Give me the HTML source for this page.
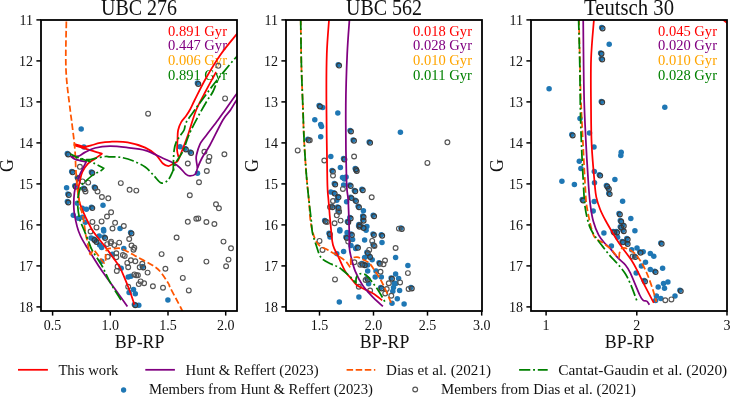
<!DOCTYPE html><html><head><meta charset="utf-8"><style>html,body{margin:0;padding:0;background:#fff;width:730px;height:397px;overflow:hidden} svg{will-change:transform}</style></head><body><svg width="730" height="397" viewBox="0 0 730 397" style="display:block">
<style>text{font-family:"Liberation Serif",serif;fill:#111}</style>
<rect width="730" height="397" fill="#fff"/>
<defs>
<clipPath id="c0"><rect x="41.0" y="20.0" width="196.0" height="291.0"/></clipPath>
<clipPath id="c1"><rect x="286.0" y="20.0" width="196.0" height="291.0"/></clipPath>
<clipPath id="c2"><rect x="531.0" y="20.0" width="196.0" height="291.0"/></clipPath>
</defs>
<text x="227.0" y="35.8" text-anchor="end" font-size="14" textLength="59" lengthAdjust="spacingAndGlyphs" style="fill:#ff0000">0.891 Gyr</text>
<text x="227.0" y="50.3" text-anchor="end" font-size="14" textLength="59" lengthAdjust="spacingAndGlyphs" style="fill:#800080">0.447 Gyr</text>
<text x="227.0" y="64.9" text-anchor="end" font-size="14" textLength="59" lengthAdjust="spacingAndGlyphs" style="fill:#ffa500">0.006 Gyr</text>
<text x="227.0" y="79.5" text-anchor="end" font-size="14" textLength="59" lengthAdjust="spacingAndGlyphs" style="fill:#008000">0.891 Gyr</text>
<g clip-path="url(#c0)">
<circle cx="197.4" cy="83.0" r="2.75" fill="#1f77b4"/>
<circle cx="180.0" cy="146.7" r="2.75" fill="#1f77b4"/>
<circle cx="185.0" cy="148.5" r="2.75" fill="#1f77b4"/>
<circle cx="190.2" cy="152.0" r="2.75" fill="#1f77b4"/>
<circle cx="197.5" cy="173.3" r="2.75" fill="#1f77b4"/>
<circle cx="81.2" cy="128.9" r="2.75" fill="#1f77b4"/>
<circle cx="83.9" cy="146.9" r="2.75" fill="#1f77b4"/>
<circle cx="67.3" cy="153.5" r="2.75" fill="#1f77b4"/>
<circle cx="71.7" cy="171.4" r="2.75" fill="#1f77b4"/>
<circle cx="91.4" cy="172.0" r="2.75" fill="#1f77b4"/>
<circle cx="77.3" cy="177.6" r="2.75" fill="#1f77b4"/>
<circle cx="74.8" cy="185.8" r="2.75" fill="#1f77b4"/>
<circle cx="66.6" cy="187.7" r="2.75" fill="#1f77b4"/>
<circle cx="67.9" cy="194.0" r="2.75" fill="#1f77b4"/>
<circle cx="83.6" cy="188.3" r="2.75" fill="#1f77b4"/>
<circle cx="94.3" cy="187.0" r="2.75" fill="#1f77b4"/>
<circle cx="67.4" cy="201.6" r="2.75" fill="#1f77b4"/>
<circle cx="77.3" cy="203.2" r="2.75" fill="#1f77b4"/>
<circle cx="82.3" cy="208.2" r="2.75" fill="#1f77b4"/>
<circle cx="91.4" cy="207.2" r="2.75" fill="#1f77b4"/>
<circle cx="86.4" cy="209.2" r="2.75" fill="#1f77b4"/>
<circle cx="103.0" cy="205.2" r="2.75" fill="#1f77b4"/>
<circle cx="73.3" cy="215.3" r="2.75" fill="#1f77b4"/>
<circle cx="78.3" cy="218.3" r="2.75" fill="#1f77b4"/>
<circle cx="82.3" cy="217.3" r="2.75" fill="#1f77b4"/>
<circle cx="85.4" cy="222.3" r="2.75" fill="#1f77b4"/>
<circle cx="103.5" cy="229.4" r="2.75" fill="#1f77b4"/>
<circle cx="91.1" cy="238.1" r="2.75" fill="#1f77b4"/>
<circle cx="93.6" cy="239.1" r="2.75" fill="#1f77b4"/>
<circle cx="95.6" cy="241.1" r="2.75" fill="#1f77b4"/>
<circle cx="99.2" cy="236.0" r="2.75" fill="#1f77b4"/>
<circle cx="99.7" cy="245.1" r="2.75" fill="#1f77b4"/>
<circle cx="101.7" cy="247.6" r="2.75" fill="#1f77b4"/>
<circle cx="104.2" cy="237.1" r="2.75" fill="#1f77b4"/>
<circle cx="103.7" cy="231.0" r="2.75" fill="#1f77b4"/>
<circle cx="112.3" cy="254.2" r="2.75" fill="#1f77b4"/>
<circle cx="101.7" cy="261.2" r="2.75" fill="#1f77b4"/>
<circle cx="120.0" cy="228.4" r="2.75" fill="#1f77b4"/>
<circle cx="130.6" cy="232.5" r="2.75" fill="#1f77b4"/>
<circle cx="123.8" cy="248.6" r="2.75" fill="#1f77b4"/>
<circle cx="121.2" cy="268.2" r="2.75" fill="#1f77b4"/>
<circle cx="142.3" cy="266.5" r="2.75" fill="#1f77b4"/>
<circle cx="130.9" cy="276.2" r="2.75" fill="#1f77b4"/>
<circle cx="128.2" cy="277.0" r="2.75" fill="#1f77b4"/>
<circle cx="133.5" cy="289.4" r="2.75" fill="#1f77b4"/>
<circle cx="129.1" cy="292.6" r="2.75" fill="#1f77b4"/>
<circle cx="135.3" cy="293.8" r="2.75" fill="#1f77b4"/>
<circle cx="134.4" cy="304.4" r="2.75" fill="#1f77b4"/>
<circle cx="138.8" cy="305.3" r="2.75" fill="#1f77b4"/>
<circle cx="167.9" cy="300.0" r="2.75" fill="#1f77b4"/>
<circle cx="198.3" cy="83.9" r="2.4" fill="none" stroke="#3a3a3a" stroke-width="1.15"/>
<circle cx="185.9" cy="149.4" r="2.4" fill="none" stroke="#3a3a3a" stroke-width="1.15"/>
<circle cx="191.1" cy="152.9" r="2.4" fill="none" stroke="#3a3a3a" stroke-width="1.15"/>
<circle cx="68.2" cy="154.4" r="2.4" fill="none" stroke="#3a3a3a" stroke-width="1.15"/>
<circle cx="72.6" cy="172.3" r="2.4" fill="none" stroke="#3a3a3a" stroke-width="1.15"/>
<circle cx="92.3" cy="172.9" r="2.4" fill="none" stroke="#3a3a3a" stroke-width="1.15"/>
<circle cx="78.2" cy="178.5" r="2.4" fill="none" stroke="#3a3a3a" stroke-width="1.15"/>
<circle cx="75.7" cy="186.7" r="2.4" fill="none" stroke="#3a3a3a" stroke-width="1.15"/>
<circle cx="68.8" cy="194.9" r="2.4" fill="none" stroke="#3a3a3a" stroke-width="1.15"/>
<circle cx="84.5" cy="189.2" r="2.4" fill="none" stroke="#3a3a3a" stroke-width="1.15"/>
<circle cx="95.2" cy="187.9" r="2.4" fill="none" stroke="#3a3a3a" stroke-width="1.15"/>
<circle cx="68.3" cy="202.5" r="2.4" fill="none" stroke="#3a3a3a" stroke-width="1.15"/>
<circle cx="92.3" cy="208.1" r="2.4" fill="none" stroke="#3a3a3a" stroke-width="1.15"/>
<circle cx="94.5" cy="240.0" r="2.4" fill="none" stroke="#3a3a3a" stroke-width="1.15"/>
<circle cx="96.5" cy="242.0" r="2.4" fill="none" stroke="#3a3a3a" stroke-width="1.15"/>
<circle cx="105.1" cy="238.0" r="2.4" fill="none" stroke="#3a3a3a" stroke-width="1.15"/>
<circle cx="131.5" cy="233.4" r="2.4" fill="none" stroke="#3a3a3a" stroke-width="1.15"/>
<circle cx="143.2" cy="267.4" r="2.4" fill="none" stroke="#3a3a3a" stroke-width="1.15"/>
<circle cx="135.3" cy="305.3" r="2.4" fill="none" stroke="#3a3a3a" stroke-width="1.15"/>
<circle cx="218.3" cy="65.8" r="2.4" fill="none" stroke="#555" stroke-width="1.15"/>
<circle cx="225.1" cy="98.4" r="2.4" fill="none" stroke="#555" stroke-width="1.15"/>
<circle cx="148.1" cy="113.7" r="2.4" fill="none" stroke="#555" stroke-width="1.15"/>
<circle cx="204.4" cy="151.7" r="2.4" fill="none" stroke="#555" stroke-width="1.15"/>
<circle cx="209.4" cy="156.9" r="2.4" fill="none" stroke="#555" stroke-width="1.15"/>
<circle cx="208.5" cy="161.0" r="2.4" fill="none" stroke="#555" stroke-width="1.15"/>
<circle cx="224.4" cy="154.2" r="2.4" fill="none" stroke="#555" stroke-width="1.15"/>
<circle cx="187.8" cy="163.5" r="2.4" fill="none" stroke="#555" stroke-width="1.15"/>
<circle cx="206.8" cy="171.0" r="2.4" fill="none" stroke="#555" stroke-width="1.15"/>
<circle cx="199.0" cy="182.2" r="2.4" fill="none" stroke="#555" stroke-width="1.15"/>
<circle cx="79.9" cy="166.8" r="2.4" fill="none" stroke="#555" stroke-width="1.15"/>
<circle cx="82.5" cy="181.4" r="2.4" fill="none" stroke="#555" stroke-width="1.15"/>
<circle cx="88.2" cy="182.6" r="2.4" fill="none" stroke="#555" stroke-width="1.15"/>
<circle cx="85.5" cy="191.5" r="2.4" fill="none" stroke="#555" stroke-width="1.15"/>
<circle cx="97.5" cy="191.5" r="2.4" fill="none" stroke="#555" stroke-width="1.15"/>
<circle cx="101.9" cy="197.0" r="2.4" fill="none" stroke="#555" stroke-width="1.15"/>
<circle cx="108.3" cy="198.3" r="2.4" fill="none" stroke="#555" stroke-width="1.15"/>
<circle cx="120.8" cy="183.1" r="2.4" fill="none" stroke="#555" stroke-width="1.15"/>
<circle cx="129.6" cy="189.8" r="2.4" fill="none" stroke="#555" stroke-width="1.15"/>
<circle cx="136.3" cy="190.6" r="2.4" fill="none" stroke="#555" stroke-width="1.15"/>
<circle cx="111.1" cy="212.3" r="2.4" fill="none" stroke="#555" stroke-width="1.15"/>
<circle cx="107.0" cy="216.5" r="2.4" fill="none" stroke="#555" stroke-width="1.15"/>
<circle cx="101.6" cy="221.4" r="2.4" fill="none" stroke="#555" stroke-width="1.15"/>
<circle cx="92.4" cy="221.9" r="2.4" fill="none" stroke="#555" stroke-width="1.15"/>
<circle cx="115.1" cy="222.8" r="2.4" fill="none" stroke="#555" stroke-width="1.15"/>
<circle cx="96.5" cy="227.4" r="2.4" fill="none" stroke="#555" stroke-width="1.15"/>
<circle cx="112.5" cy="228.5" r="2.4" fill="none" stroke="#555" stroke-width="1.15"/>
<circle cx="123.8" cy="226.0" r="2.4" fill="none" stroke="#555" stroke-width="1.15"/>
<circle cx="129.2" cy="239.0" r="2.4" fill="none" stroke="#555" stroke-width="1.15"/>
<circle cx="176.6" cy="237.5" r="2.4" fill="none" stroke="#555" stroke-width="1.15"/>
<circle cx="111.1" cy="241.6" r="2.4" fill="none" stroke="#555" stroke-width="1.15"/>
<circle cx="119.2" cy="242.6" r="2.4" fill="none" stroke="#555" stroke-width="1.15"/>
<circle cx="131.5" cy="245.5" r="2.4" fill="none" stroke="#555" stroke-width="1.15"/>
<circle cx="134.3" cy="247.8" r="2.4" fill="none" stroke="#555" stroke-width="1.15"/>
<circle cx="90.6" cy="231.5" r="2.4" fill="none" stroke="#555" stroke-width="1.15"/>
<circle cx="107.2" cy="244.1" r="2.4" fill="none" stroke="#555" stroke-width="1.15"/>
<circle cx="110.7" cy="243.1" r="2.4" fill="none" stroke="#555" stroke-width="1.15"/>
<circle cx="114.3" cy="245.1" r="2.4" fill="none" stroke="#555" stroke-width="1.15"/>
<circle cx="107.7" cy="256.7" r="2.4" fill="none" stroke="#555" stroke-width="1.15"/>
<circle cx="116.3" cy="253.2" r="2.4" fill="none" stroke="#555" stroke-width="1.15"/>
<circle cx="116.3" cy="257.2" r="2.4" fill="none" stroke="#555" stroke-width="1.15"/>
<circle cx="189.8" cy="195.2" r="2.4" fill="none" stroke="#555" stroke-width="1.15"/>
<circle cx="216.0" cy="204.3" r="2.4" fill="none" stroke="#555" stroke-width="1.15"/>
<circle cx="218.9" cy="208.3" r="2.4" fill="none" stroke="#555" stroke-width="1.15"/>
<circle cx="187.8" cy="221.8" r="2.4" fill="none" stroke="#555" stroke-width="1.15"/>
<circle cx="196.3" cy="218.8" r="2.4" fill="none" stroke="#555" stroke-width="1.15"/>
<circle cx="198.3" cy="218.4" r="2.4" fill="none" stroke="#555" stroke-width="1.15"/>
<circle cx="206.4" cy="222.0" r="2.4" fill="none" stroke="#555" stroke-width="1.15"/>
<circle cx="214.4" cy="224.0" r="2.4" fill="none" stroke="#555" stroke-width="1.15"/>
<circle cx="223.5" cy="241.6" r="2.4" fill="none" stroke="#555" stroke-width="1.15"/>
<circle cx="231.0" cy="248.3" r="2.4" fill="none" stroke="#555" stroke-width="1.15"/>
<circle cx="161.6" cy="254.1" r="2.4" fill="none" stroke="#555" stroke-width="1.15"/>
<circle cx="180.2" cy="259.2" r="2.4" fill="none" stroke="#555" stroke-width="1.15"/>
<circle cx="206.4" cy="261.6" r="2.4" fill="none" stroke="#555" stroke-width="1.15"/>
<circle cx="228.5" cy="259.6" r="2.4" fill="none" stroke="#555" stroke-width="1.15"/>
<circle cx="226.1" cy="266.2" r="2.4" fill="none" stroke="#555" stroke-width="1.15"/>
<circle cx="165.4" cy="268.8" r="2.4" fill="none" stroke="#555" stroke-width="1.15"/>
<circle cx="182.8" cy="277.9" r="2.4" fill="none" stroke="#555" stroke-width="1.15"/>
<circle cx="163.0" cy="287.8" r="2.4" fill="none" stroke="#555" stroke-width="1.15"/>
<circle cx="188.8" cy="290.4" r="2.4" fill="none" stroke="#555" stroke-width="1.15"/>
<circle cx="133.5" cy="249.7" r="2.4" fill="none" stroke="#555" stroke-width="1.15"/>
<circle cx="122.9" cy="255.0" r="2.4" fill="none" stroke="#555" stroke-width="1.15"/>
<circle cx="124.7" cy="255.9" r="2.4" fill="none" stroke="#555" stroke-width="1.15"/>
<circle cx="127.3" cy="262.9" r="2.4" fill="none" stroke="#555" stroke-width="1.15"/>
<circle cx="130.9" cy="260.3" r="2.4" fill="none" stroke="#555" stroke-width="1.15"/>
<circle cx="135.3" cy="261.2" r="2.4" fill="none" stroke="#555" stroke-width="1.15"/>
<circle cx="142.3" cy="263.8" r="2.4" fill="none" stroke="#555" stroke-width="1.15"/>
<circle cx="128.2" cy="267.3" r="2.4" fill="none" stroke="#555" stroke-width="1.15"/>
<circle cx="139.7" cy="267.3" r="2.4" fill="none" stroke="#555" stroke-width="1.15"/>
<circle cx="147.6" cy="272.6" r="2.4" fill="none" stroke="#555" stroke-width="1.15"/>
<circle cx="116.8" cy="270.9" r="2.4" fill="none" stroke="#555" stroke-width="1.15"/>
<circle cx="117.6" cy="266.5" r="2.4" fill="none" stroke="#555" stroke-width="1.15"/>
<circle cx="134.4" cy="274.4" r="2.4" fill="none" stroke="#555" stroke-width="1.15"/>
<circle cx="136.2" cy="275.3" r="2.4" fill="none" stroke="#555" stroke-width="1.15"/>
<circle cx="137.9" cy="275.3" r="2.4" fill="none" stroke="#555" stroke-width="1.15"/>
<circle cx="140.6" cy="281.4" r="2.4" fill="none" stroke="#555" stroke-width="1.15"/>
<circle cx="144.1" cy="283.2" r="2.4" fill="none" stroke="#555" stroke-width="1.15"/>
<circle cx="138.8" cy="284.1" r="2.4" fill="none" stroke="#555" stroke-width="1.15"/>
<circle cx="152.9" cy="286.2" r="2.4" fill="none" stroke="#555" stroke-width="1.15"/>
<circle cx="128.2" cy="286.7" r="2.4" fill="none" stroke="#555" stroke-width="1.15"/>
<path d="M134.40,304.60 C133.75,302.67 131.83,296.70 130.50,293.00 C129.17,289.30 128.10,286.52 126.40,282.40 C124.70,278.28 122.53,272.45 120.30,268.30 C118.07,264.15 115.35,260.87 113.00,257.50 C110.65,254.13 108.53,251.18 106.20,248.10 C103.87,245.02 101.28,241.93 99.00,239.00 C96.72,236.07 94.33,233.33 92.50,230.50 C90.67,227.67 89.40,224.78 88.00,222.00 C86.60,219.22 85.55,217.23 84.10,213.80 C82.65,210.37 80.23,205.52 79.30,201.40 C78.37,197.28 78.40,192.55 78.50,189.10 C78.60,185.65 79.25,183.57 79.90,180.70 C80.55,177.83 81.05,174.73 82.40,171.90 C83.75,169.07 85.90,165.90 88.00,163.70 C90.10,161.50 92.68,160.37 95.00,158.70 C97.32,157.03 100.75,154.53 101.90,153.70 C100.37,153.23 95.50,151.75 92.70,150.90 C89.90,150.05 88.13,149.52 85.10,148.60 C82.07,147.68 76.27,145.93 74.50,145.40 C74.50,145.17 74.50,144.23 74.50,144.00 C75.42,144.27 78.23,145.13 80.00,145.60 C81.77,146.07 83.23,146.83 85.10,146.80 C86.97,146.77 88.72,146.05 91.20,145.40 C93.68,144.75 96.87,143.50 100.00,142.90 C103.13,142.30 105.40,141.90 110.00,141.80 C114.60,141.70 121.73,141.33 127.60,142.30 C133.47,143.27 140.50,145.53 145.20,147.60 C149.90,149.67 152.85,152.05 155.80,154.70 C158.75,157.35 160.78,161.62 162.90,163.50 C165.02,165.38 166.75,166.00 168.50,166.00 C170.25,166.00 171.80,164.43 173.40,163.50 C175.00,162.57 176.63,162.60 178.10,160.40 C179.57,158.20 180.52,154.67 182.20,150.30 C183.88,145.93 185.87,140.92 188.20,134.20 C190.53,127.48 193.27,117.20 196.20,110.00 C199.13,102.80 202.70,96.93 205.80,91.00 C208.90,85.07 213.10,77.57 214.80,74.40 C216.50,71.23 215.80,72.40 216.00,72.00" fill="none" stroke="#ff0000" stroke-width="1.75" stroke-linejoin="round"/>
<path d="M178.50,157.00 C178.27,155.88 177.27,153.13 177.10,150.30 C176.93,147.47 177.33,143.35 177.50,140.00 C177.67,136.65 177.48,133.18 178.10,130.20 C178.72,127.22 179.88,124.47 181.20,122.10 C182.52,119.73 184.57,118.02 186.00,116.00 C187.43,113.98 188.35,112.67 189.80,110.00 C191.25,107.33 192.03,105.25 194.70,100.00 C197.37,94.75 201.53,86.00 205.80,78.50 C210.07,71.00 215.17,62.35 220.30,55.00 C225.43,47.65 232.98,38.90 236.60,34.40 C240.22,29.90 241.10,29.07 242.00,28.00" fill="none" stroke="#ff0000" stroke-width="1.75" stroke-linejoin="round"/>
<path d="M127.40,306.60 C126.22,304.92 123.17,300.53 120.30,296.50 C117.43,292.47 113.55,287.10 110.20,282.40 C106.85,277.70 103.55,273.33 100.20,268.30 C96.85,263.27 92.55,256.08 90.10,252.20 C87.65,248.32 87.10,247.70 85.50,245.00 C83.90,242.30 81.92,239.15 80.50,236.00 C79.08,232.85 78.08,230.38 77.00,226.10 C75.92,221.82 74.43,215.88 74.00,210.30 C73.57,204.72 73.85,197.53 74.40,192.60 C74.95,187.67 76.18,184.15 77.30,180.70 C78.42,177.25 79.62,175.03 81.10,171.90 C82.58,168.77 85.35,163.57 86.20,161.90 C84.40,161.47 77.93,160.18 75.40,159.30 C72.87,158.42 71.73,157.05 71.00,156.60 C72.27,156.53 76.28,156.90 78.60,156.20 C80.92,155.50 82.17,153.77 84.90,152.40 C87.63,151.03 90.82,149.03 95.00,148.00 C99.18,146.97 104.57,146.27 110.00,146.20 C115.43,146.13 121.73,146.92 127.60,147.60 C133.47,148.28 139.32,148.53 145.20,150.30 C151.08,152.07 157.60,155.72 162.90,158.20 C168.20,160.68 173.18,162.55 177.00,165.20 C180.82,167.85 183.63,172.33 185.80,174.10 C187.97,175.87 188.38,175.82 190.00,175.80 C191.62,175.78 194.25,175.30 195.50,174.00 C196.75,172.70 196.42,170.67 197.50,168.00 C198.58,165.33 199.92,161.83 202.00,158.00 C204.08,154.17 206.52,151.33 210.00,145.00 C213.48,138.67 219.48,125.83 222.90,120.00 C226.32,114.17 228.28,113.22 230.50,110.00 C232.72,106.78 234.28,103.53 236.20,100.70 C238.12,97.87 241.03,94.28 242.00,93.00" fill="none" stroke="#800080" stroke-width="1.75" stroke-linejoin="round"/>
<path d="M197.50,168.00 C197.30,166.67 196.47,162.17 196.30,160.00 C196.13,157.83 195.90,157.60 196.50,155.00 C197.10,152.40 198.48,147.40 199.90,144.40 C201.32,141.40 201.98,141.07 205.00,137.00 C208.02,132.93 214.63,124.50 218.00,120.00 C221.37,115.50 222.17,114.25 225.20,110.00 C228.23,105.75 233.40,98.17 236.20,94.50 C239.00,90.83 241.03,89.08 242.00,88.00" fill="none" stroke="#800080" stroke-width="1.75" stroke-linejoin="round"/>
<path d="M66.40,19.00 C66.33,27.50 65.37,54.83 66.00,70.00 C66.63,85.17 69.28,101.67 70.20,110.00 C71.12,118.33 70.73,113.67 71.50,120.00 C72.27,126.33 74.03,139.13 74.80,148.00 C75.57,156.87 75.47,164.87 76.10,173.20 C76.73,181.53 77.40,190.48 78.60,198.00 C79.80,205.52 82.13,212.30 83.30,218.30 C84.47,224.30 84.97,230.37 85.60,234.00 C86.23,237.63 86.35,236.73 87.10,240.10 C87.85,243.47 89.10,252.52 90.10,254.20 C91.10,255.88 92.07,250.43 93.10,250.20 C94.13,249.97 94.37,250.63 96.30,252.80 C98.23,254.97 103.10,263.42 104.70,263.20 C106.30,262.98 105.30,253.93 105.90,251.50 C106.50,249.07 106.90,249.08 108.30,248.60 C109.70,248.12 112.07,248.57 114.30,248.60 C116.53,248.63 118.20,247.58 121.70,248.80 C125.20,250.02 130.10,253.10 135.30,255.90 C140.50,258.70 148.78,263.03 152.90,265.60 C157.02,268.17 157.35,268.22 160.00,271.30 C162.65,274.38 167.12,281.42 168.80,284.10 C170.48,286.78 168.03,283.33 170.10,287.40 C172.17,291.47 179.05,304.23 181.20,308.50 C183.35,312.77 182.70,312.25 183.00,313.00" fill="none" stroke="#ff5500" stroke-width="1.75" stroke-linejoin="round" stroke-dasharray="6.5 2.8" stroke-dashoffset="6.6"/>
<path d="M121.00,300.00 C119.20,297.07 113.33,288.02 110.20,282.40 C107.07,276.78 105.22,271.67 102.20,266.30 C99.18,260.93 94.33,254.25 92.10,250.20 C89.87,246.15 90.15,245.37 88.80,242.00 C87.45,238.63 85.47,233.67 84.00,230.00 C82.53,226.33 81.02,223.67 80.00,220.00 C78.98,216.33 78.20,211.97 77.90,208.00 C77.60,204.03 77.62,199.93 78.20,196.20 C78.78,192.47 80.07,188.18 81.40,185.60 C82.73,183.02 84.15,182.57 86.20,180.70 C88.25,178.83 91.40,175.97 93.70,174.40 C96.00,172.83 98.32,172.33 100.00,171.30 C101.68,170.27 103.17,168.72 103.80,168.20 C102.12,167.35 96.85,164.47 93.70,163.10 C90.55,161.73 87.63,160.83 84.90,160.00 C82.17,159.17 79.62,159.05 77.30,158.10 C74.98,157.15 72.05,154.93 71.00,154.30 C72.33,154.88 76.13,156.90 79.00,157.80 C81.87,158.70 85.33,159.65 88.20,159.70 C91.07,159.75 93.33,158.63 96.20,158.10 C99.07,157.57 103.10,156.72 105.40,156.50 C107.70,156.28 107.47,156.67 110.00,156.80 C112.53,156.93 116.78,156.63 120.60,157.30 C124.42,157.97 128.80,159.18 132.90,160.80 C137.00,162.42 141.68,164.50 145.20,167.00 C148.72,169.50 151.35,173.15 154.00,175.80 C156.65,178.45 158.75,182.20 161.10,182.90 C163.45,183.60 166.10,182.07 168.10,180.00 C170.10,177.93 171.77,173.43 173.10,170.50 C174.43,167.57 174.45,165.65 176.10,162.40 C177.75,159.15 181.18,154.73 183.00,151.00 C184.82,147.27 185.65,143.50 187.00,140.00 C188.35,136.50 189.07,134.25 191.10,130.00 C193.13,125.75 196.50,119.43 199.20,114.50 C201.90,109.57 205.00,104.23 207.30,100.40 C209.60,96.57 211.22,95.07 213.00,91.50 C214.78,87.93 217.17,81.08 218.00,79.00" fill="none" stroke="#008000" stroke-width="1.75" stroke-linejoin="round" stroke-dasharray="11.2 2.8 1.9 2.8"/>
<path d="M173.50,171.00 C173.47,170.25 173.20,169.95 173.30,166.50 C173.40,163.05 173.63,154.33 174.10,150.30 C174.57,146.27 175.12,144.68 176.10,142.30 C177.08,139.92 178.67,138.05 180.00,136.00 C181.33,133.95 183.08,132.23 184.10,130.00 C185.12,127.77 184.62,125.52 186.10,122.60 C187.58,119.68 190.65,115.87 193.00,112.50 C195.35,109.13 196.48,107.43 200.20,102.40 C203.92,97.37 209.75,89.35 215.30,82.30 C220.85,75.25 229.05,65.32 233.50,60.10 C237.95,54.88 240.58,52.52 242.00,51.00" fill="none" stroke="#008000" stroke-width="1.75" stroke-linejoin="round" stroke-dasharray="11.2 2.8 1.9 2.8"/>
</g>
<text x="472.0" y="35.8" text-anchor="end" font-size="14" textLength="59" lengthAdjust="spacingAndGlyphs" style="fill:#ff0000">0.018 Gyr</text>
<text x="472.0" y="50.3" text-anchor="end" font-size="14" textLength="59" lengthAdjust="spacingAndGlyphs" style="fill:#800080">0.028 Gyr</text>
<text x="472.0" y="64.9" text-anchor="end" font-size="14" textLength="59" lengthAdjust="spacingAndGlyphs" style="fill:#ffa500">0.010 Gyr</text>
<text x="472.0" y="79.5" text-anchor="end" font-size="14" textLength="59" lengthAdjust="spacingAndGlyphs" style="fill:#008000">0.011 Gyr</text>
<g clip-path="url(#c1)">
<circle cx="338.2" cy="64.7" r="2.75" fill="#1f77b4"/>
<circle cx="319.1" cy="105.6" r="2.75" fill="#1f77b4"/>
<circle cx="322.7" cy="107.5" r="2.75" fill="#1f77b4"/>
<circle cx="337.8" cy="113.1" r="2.75" fill="#1f77b4"/>
<circle cx="314.8" cy="119.8" r="2.75" fill="#1f77b4"/>
<circle cx="320.7" cy="124.6" r="2.75" fill="#1f77b4"/>
<circle cx="321.5" cy="126.6" r="2.75" fill="#1f77b4"/>
<circle cx="350.1" cy="130.6" r="2.75" fill="#1f77b4"/>
<circle cx="320.7" cy="136.7" r="2.75" fill="#1f77b4"/>
<circle cx="307.8" cy="139.3" r="2.75" fill="#1f77b4"/>
<circle cx="353.1" cy="139.9" r="2.75" fill="#1f77b4"/>
<circle cx="330.8" cy="156.5" r="2.75" fill="#1f77b4"/>
<circle cx="343.5" cy="158.5" r="2.75" fill="#1f77b4"/>
<circle cx="340.4" cy="167.5" r="2.75" fill="#1f77b4"/>
<circle cx="332.0" cy="170.6" r="2.75" fill="#1f77b4"/>
<circle cx="355.2" cy="168.5" r="2.75" fill="#1f77b4"/>
<circle cx="342.5" cy="177.6" r="2.75" fill="#1f77b4"/>
<circle cx="346.1" cy="177.0" r="2.75" fill="#1f77b4"/>
<circle cx="400.4" cy="132.3" r="2.75" fill="#1f77b4"/>
<circle cx="369.2" cy="141.9" r="2.75" fill="#1f77b4"/>
<circle cx="344.4" cy="179.1" r="2.75" fill="#1f77b4"/>
<circle cx="334.3" cy="183.6" r="2.75" fill="#1f77b4"/>
<circle cx="343.6" cy="185.1" r="2.75" fill="#1f77b4"/>
<circle cx="330.8" cy="191.9" r="2.75" fill="#1f77b4"/>
<circle cx="333.8" cy="192.7" r="2.75" fill="#1f77b4"/>
<circle cx="337.6" cy="196.4" r="2.75" fill="#1f77b4"/>
<circle cx="336.8" cy="200.2" r="2.75" fill="#1f77b4"/>
<circle cx="346.6" cy="201.7" r="2.75" fill="#1f77b4"/>
<circle cx="331.5" cy="206.3" r="2.75" fill="#1f77b4"/>
<circle cx="337.6" cy="207.0" r="2.75" fill="#1f77b4"/>
<circle cx="338.0" cy="210.8" r="2.75" fill="#1f77b4"/>
<circle cx="324.7" cy="220.6" r="2.75" fill="#1f77b4"/>
<circle cx="347.4" cy="221.4" r="2.75" fill="#1f77b4"/>
<circle cx="339.8" cy="229.7" r="2.75" fill="#1f77b4"/>
<circle cx="355.9" cy="170.0" r="2.75" fill="#1f77b4"/>
<circle cx="349.8" cy="185.1" r="2.75" fill="#1f77b4"/>
<circle cx="354.4" cy="190.4" r="2.75" fill="#1f77b4"/>
<circle cx="361.9" cy="189.3" r="2.75" fill="#1f77b4"/>
<circle cx="350.6" cy="197.2" r="2.75" fill="#1f77b4"/>
<circle cx="355.1" cy="200.2" r="2.75" fill="#1f77b4"/>
<circle cx="358.1" cy="206.3" r="2.75" fill="#1f77b4"/>
<circle cx="363.4" cy="210.8" r="2.75" fill="#1f77b4"/>
<circle cx="362.7" cy="216.1" r="2.75" fill="#1f77b4"/>
<circle cx="373.2" cy="215.3" r="2.75" fill="#1f77b4"/>
<circle cx="349.8" cy="217.6" r="2.75" fill="#1f77b4"/>
<circle cx="362.7" cy="219.8" r="2.75" fill="#1f77b4"/>
<circle cx="358.9" cy="224.4" r="2.75" fill="#1f77b4"/>
<circle cx="362.7" cy="227.1" r="2.75" fill="#1f77b4"/>
<circle cx="366.9" cy="226.6" r="2.75" fill="#1f77b4"/>
<circle cx="339.8" cy="231.0" r="2.75" fill="#1f77b4"/>
<circle cx="329.0" cy="233.3" r="2.75" fill="#1f77b4"/>
<circle cx="330.0" cy="237.1" r="2.75" fill="#1f77b4"/>
<circle cx="347.1" cy="232.6" r="2.75" fill="#1f77b4"/>
<circle cx="345.9" cy="237.1" r="2.75" fill="#1f77b4"/>
<circle cx="343.6" cy="251.4" r="2.75" fill="#1f77b4"/>
<circle cx="336.8" cy="253.7" r="2.75" fill="#1f77b4"/>
<circle cx="358.6" cy="225.8" r="2.75" fill="#1f77b4"/>
<circle cx="366.1" cy="230.3" r="2.75" fill="#1f77b4"/>
<circle cx="400.9" cy="228.0" r="2.75" fill="#1f77b4"/>
<circle cx="351.0" cy="234.1" r="2.75" fill="#1f77b4"/>
<circle cx="373.0" cy="234.1" r="2.75" fill="#1f77b4"/>
<circle cx="381.3" cy="234.8" r="2.75" fill="#1f77b4"/>
<circle cx="352.6" cy="239.4" r="2.75" fill="#1f77b4"/>
<circle cx="364.6" cy="240.1" r="2.75" fill="#1f77b4"/>
<circle cx="382.0" cy="242.4" r="2.75" fill="#1f77b4"/>
<circle cx="373.0" cy="244.6" r="2.75" fill="#1f77b4"/>
<circle cx="351.0" cy="245.4" r="2.75" fill="#1f77b4"/>
<circle cx="357.1" cy="246.9" r="2.75" fill="#1f77b4"/>
<circle cx="355.6" cy="248.4" r="2.75" fill="#1f77b4"/>
<circle cx="366.9" cy="252.2" r="2.75" fill="#1f77b4"/>
<circle cx="369.2" cy="256.0" r="2.75" fill="#1f77b4"/>
<circle cx="364.6" cy="257.5" r="2.75" fill="#1f77b4"/>
<circle cx="372.2" cy="259.7" r="2.75" fill="#1f77b4"/>
<circle cx="395.6" cy="257.5" r="2.75" fill="#1f77b4"/>
<circle cx="361.6" cy="263.5" r="2.75" fill="#1f77b4"/>
<circle cx="363.9" cy="264.3" r="2.75" fill="#1f77b4"/>
<circle cx="367.7" cy="265.0" r="2.75" fill="#1f77b4"/>
<circle cx="379.0" cy="262.8" r="2.75" fill="#1f77b4"/>
<circle cx="367.7" cy="271.1" r="2.75" fill="#1f77b4"/>
<circle cx="376.0" cy="271.1" r="2.75" fill="#1f77b4"/>
<circle cx="375.2" cy="277.1" r="2.75" fill="#1f77b4"/>
<circle cx="381.3" cy="277.1" r="2.75" fill="#1f77b4"/>
<circle cx="366.9" cy="278.6" r="2.75" fill="#1f77b4"/>
<circle cx="395.6" cy="274.1" r="2.75" fill="#1f77b4"/>
<circle cx="391.1" cy="277.9" r="2.75" fill="#1f77b4"/>
<circle cx="398.6" cy="278.6" r="2.75" fill="#1f77b4"/>
<circle cx="394.1" cy="283.2" r="2.75" fill="#1f77b4"/>
<circle cx="339.3" cy="302.0" r="2.75" fill="#1f77b4"/>
<circle cx="358.9" cy="297.0" r="2.75" fill="#1f77b4"/>
<circle cx="407.9" cy="265.6" r="2.75" fill="#1f77b4"/>
<circle cx="368.6" cy="283.7" r="2.75" fill="#1f77b4"/>
<circle cx="380.7" cy="287.5" r="2.75" fill="#1f77b4"/>
<circle cx="393.5" cy="287.5" r="2.75" fill="#1f77b4"/>
<circle cx="399.6" cy="290.5" r="2.75" fill="#1f77b4"/>
<circle cx="392.8" cy="291.3" r="2.75" fill="#1f77b4"/>
<circle cx="410.9" cy="287.5" r="2.75" fill="#1f77b4"/>
<circle cx="397.3" cy="298.8" r="2.75" fill="#1f77b4"/>
<circle cx="392.0" cy="303.3" r="2.75" fill="#1f77b4"/>
<circle cx="404.1" cy="304.1" r="2.75" fill="#1f77b4"/>
<circle cx="395.8" cy="283.4" r="2.75" fill="#1f77b4"/>
<circle cx="339.1" cy="65.6" r="2.4" fill="none" stroke="#3a3a3a" stroke-width="1.15"/>
<circle cx="320.0" cy="106.5" r="2.4" fill="none" stroke="#3a3a3a" stroke-width="1.15"/>
<circle cx="351.0" cy="131.5" r="2.4" fill="none" stroke="#3a3a3a" stroke-width="1.15"/>
<circle cx="308.7" cy="140.2" r="2.4" fill="none" stroke="#3a3a3a" stroke-width="1.15"/>
<circle cx="354.0" cy="140.8" r="2.4" fill="none" stroke="#3a3a3a" stroke-width="1.15"/>
<circle cx="344.4" cy="159.4" r="2.4" fill="none" stroke="#3a3a3a" stroke-width="1.15"/>
<circle cx="332.9" cy="171.5" r="2.4" fill="none" stroke="#3a3a3a" stroke-width="1.15"/>
<circle cx="356.1" cy="169.4" r="2.4" fill="none" stroke="#3a3a3a" stroke-width="1.15"/>
<circle cx="370.1" cy="142.8" r="2.4" fill="none" stroke="#3a3a3a" stroke-width="1.15"/>
<circle cx="335.2" cy="184.5" r="2.4" fill="none" stroke="#3a3a3a" stroke-width="1.15"/>
<circle cx="334.7" cy="193.6" r="2.4" fill="none" stroke="#3a3a3a" stroke-width="1.15"/>
<circle cx="338.5" cy="197.3" r="2.4" fill="none" stroke="#3a3a3a" stroke-width="1.15"/>
<circle cx="332.4" cy="207.2" r="2.4" fill="none" stroke="#3a3a3a" stroke-width="1.15"/>
<circle cx="338.5" cy="207.9" r="2.4" fill="none" stroke="#3a3a3a" stroke-width="1.15"/>
<circle cx="338.9" cy="211.7" r="2.4" fill="none" stroke="#3a3a3a" stroke-width="1.15"/>
<circle cx="325.6" cy="221.5" r="2.4" fill="none" stroke="#3a3a3a" stroke-width="1.15"/>
<circle cx="348.3" cy="222.3" r="2.4" fill="none" stroke="#3a3a3a" stroke-width="1.15"/>
<circle cx="356.8" cy="170.9" r="2.4" fill="none" stroke="#3a3a3a" stroke-width="1.15"/>
<circle cx="350.7" cy="186.0" r="2.4" fill="none" stroke="#3a3a3a" stroke-width="1.15"/>
<circle cx="355.3" cy="191.3" r="2.4" fill="none" stroke="#3a3a3a" stroke-width="1.15"/>
<circle cx="362.8" cy="190.2" r="2.4" fill="none" stroke="#3a3a3a" stroke-width="1.15"/>
<circle cx="351.5" cy="198.1" r="2.4" fill="none" stroke="#3a3a3a" stroke-width="1.15"/>
<circle cx="356.0" cy="201.1" r="2.4" fill="none" stroke="#3a3a3a" stroke-width="1.15"/>
<circle cx="359.0" cy="207.2" r="2.4" fill="none" stroke="#3a3a3a" stroke-width="1.15"/>
<circle cx="363.6" cy="217.0" r="2.4" fill="none" stroke="#3a3a3a" stroke-width="1.15"/>
<circle cx="374.1" cy="216.2" r="2.4" fill="none" stroke="#3a3a3a" stroke-width="1.15"/>
<circle cx="350.7" cy="218.5" r="2.4" fill="none" stroke="#3a3a3a" stroke-width="1.15"/>
<circle cx="363.6" cy="220.7" r="2.4" fill="none" stroke="#3a3a3a" stroke-width="1.15"/>
<circle cx="359.8" cy="225.3" r="2.4" fill="none" stroke="#3a3a3a" stroke-width="1.15"/>
<circle cx="363.6" cy="228.0" r="2.4" fill="none" stroke="#3a3a3a" stroke-width="1.15"/>
<circle cx="329.9" cy="234.2" r="2.4" fill="none" stroke="#3a3a3a" stroke-width="1.15"/>
<circle cx="346.8" cy="238.0" r="2.4" fill="none" stroke="#3a3a3a" stroke-width="1.15"/>
<circle cx="359.5" cy="226.7" r="2.4" fill="none" stroke="#3a3a3a" stroke-width="1.15"/>
<circle cx="401.8" cy="228.9" r="2.4" fill="none" stroke="#3a3a3a" stroke-width="1.15"/>
<circle cx="351.9" cy="235.0" r="2.4" fill="none" stroke="#3a3a3a" stroke-width="1.15"/>
<circle cx="373.9" cy="235.0" r="2.4" fill="none" stroke="#3a3a3a" stroke-width="1.15"/>
<circle cx="382.2" cy="235.7" r="2.4" fill="none" stroke="#3a3a3a" stroke-width="1.15"/>
<circle cx="373.9" cy="245.5" r="2.4" fill="none" stroke="#3a3a3a" stroke-width="1.15"/>
<circle cx="358.0" cy="247.8" r="2.4" fill="none" stroke="#3a3a3a" stroke-width="1.15"/>
<circle cx="367.8" cy="253.1" r="2.4" fill="none" stroke="#3a3a3a" stroke-width="1.15"/>
<circle cx="370.1" cy="256.9" r="2.4" fill="none" stroke="#3a3a3a" stroke-width="1.15"/>
<circle cx="362.5" cy="264.4" r="2.4" fill="none" stroke="#3a3a3a" stroke-width="1.15"/>
<circle cx="364.8" cy="265.2" r="2.4" fill="none" stroke="#3a3a3a" stroke-width="1.15"/>
<circle cx="379.9" cy="263.7" r="2.4" fill="none" stroke="#3a3a3a" stroke-width="1.15"/>
<circle cx="367.8" cy="279.5" r="2.4" fill="none" stroke="#3a3a3a" stroke-width="1.15"/>
<circle cx="392.0" cy="278.8" r="2.4" fill="none" stroke="#3a3a3a" stroke-width="1.15"/>
<circle cx="381.6" cy="288.4" r="2.4" fill="none" stroke="#3a3a3a" stroke-width="1.15"/>
<circle cx="411.8" cy="288.4" r="2.4" fill="none" stroke="#3a3a3a" stroke-width="1.15"/>
<circle cx="297.7" cy="150.4" r="2.4" fill="none" stroke="#555" stroke-width="1.15"/>
<circle cx="324.3" cy="160.5" r="2.4" fill="none" stroke="#555" stroke-width="1.15"/>
<circle cx="354.1" cy="156.5" r="2.4" fill="none" stroke="#555" stroke-width="1.15"/>
<circle cx="333.0" cy="175.6" r="2.4" fill="none" stroke="#555" stroke-width="1.15"/>
<circle cx="427.4" cy="162.9" r="2.4" fill="none" stroke="#555" stroke-width="1.15"/>
<circle cx="447.4" cy="142.3" r="2.4" fill="none" stroke="#555" stroke-width="1.15"/>
<circle cx="342.9" cy="188.9" r="2.4" fill="none" stroke="#555" stroke-width="1.15"/>
<circle cx="333.0" cy="201.0" r="2.4" fill="none" stroke="#555" stroke-width="1.15"/>
<circle cx="330.0" cy="207.0" r="2.4" fill="none" stroke="#555" stroke-width="1.15"/>
<circle cx="339.1" cy="211.5" r="2.4" fill="none" stroke="#555" stroke-width="1.15"/>
<circle cx="336.8" cy="215.3" r="2.4" fill="none" stroke="#555" stroke-width="1.15"/>
<circle cx="340.6" cy="220.6" r="2.4" fill="none" stroke="#555" stroke-width="1.15"/>
<circle cx="334.6" cy="223.2" r="2.4" fill="none" stroke="#555" stroke-width="1.15"/>
<circle cx="327.0" cy="222.1" r="2.4" fill="none" stroke="#555" stroke-width="1.15"/>
<circle cx="371.7" cy="197.2" r="2.4" fill="none" stroke="#555" stroke-width="1.15"/>
<circle cx="398.9" cy="228.6" r="2.4" fill="none" stroke="#555" stroke-width="1.15"/>
<circle cx="319.5" cy="240.9" r="2.4" fill="none" stroke="#555" stroke-width="1.15"/>
<circle cx="322.5" cy="249.9" r="2.4" fill="none" stroke="#555" stroke-width="1.15"/>
<circle cx="335.0" cy="279.4" r="2.4" fill="none" stroke="#555" stroke-width="1.15"/>
<circle cx="348.2" cy="241.6" r="2.4" fill="none" stroke="#555" stroke-width="1.15"/>
<circle cx="354.4" cy="262.3" r="2.4" fill="none" stroke="#555" stroke-width="1.15"/>
<circle cx="372.2" cy="240.9" r="2.4" fill="none" stroke="#555" stroke-width="1.15"/>
<circle cx="374.5" cy="246.1" r="2.4" fill="none" stroke="#555" stroke-width="1.15"/>
<circle cx="395.6" cy="248.0" r="2.4" fill="none" stroke="#555" stroke-width="1.15"/>
<circle cx="369.2" cy="249.9" r="2.4" fill="none" stroke="#555" stroke-width="1.15"/>
<circle cx="385.0" cy="260.5" r="2.4" fill="none" stroke="#555" stroke-width="1.15"/>
<circle cx="383.5" cy="264.3" r="2.4" fill="none" stroke="#555" stroke-width="1.15"/>
<circle cx="380.5" cy="271.8" r="2.4" fill="none" stroke="#555" stroke-width="1.15"/>
<circle cx="400.1" cy="282.4" r="2.4" fill="none" stroke="#555" stroke-width="1.15"/>
<circle cx="388.8" cy="283.2" r="2.4" fill="none" stroke="#555" stroke-width="1.15"/>
<circle cx="360.3" cy="264.8" r="2.4" fill="none" stroke="#555" stroke-width="1.15"/>
<circle cx="407.9" cy="273.1" r="2.4" fill="none" stroke="#555" stroke-width="1.15"/>
<circle cx="365.6" cy="280.0" r="2.4" fill="none" stroke="#555" stroke-width="1.15"/>
<circle cx="358.8" cy="286.7" r="2.4" fill="none" stroke="#555" stroke-width="1.15"/>
<circle cx="370.1" cy="290.5" r="2.4" fill="none" stroke="#555" stroke-width="1.15"/>
<circle cx="386.7" cy="289.0" r="2.4" fill="none" stroke="#555" stroke-width="1.15"/>
<circle cx="385.2" cy="293.5" r="2.4" fill="none" stroke="#555" stroke-width="1.15"/>
<circle cx="391.3" cy="295.8" r="2.4" fill="none" stroke="#555" stroke-width="1.15"/>
<circle cx="408.6" cy="289.0" r="2.4" fill="none" stroke="#555" stroke-width="1.15"/>
<circle cx="309.8" cy="140.3" r="2.4" fill="none" stroke="#555" stroke-width="1.15"/>
<path d="M329.10,19.00 C328.72,24.83 327.25,40.50 326.80,54.00 C326.35,67.50 326.32,79.00 326.40,100.00 C326.48,121.00 326.95,163.30 327.30,180.00 C327.65,196.70 327.87,191.87 328.50,200.20 C329.13,208.53 330.35,222.53 331.10,230.00 C331.85,237.47 331.85,240.65 333.00,245.00 C334.15,249.35 335.98,251.73 338.00,256.10 C340.02,260.47 343.10,267.70 345.10,271.20 C347.10,274.70 348.07,274.80 350.00,277.10 C351.93,279.40 354.35,283.02 356.70,285.00 C359.05,286.98 361.37,287.58 364.10,289.00 C366.83,290.42 370.08,291.62 373.10,293.50 C376.12,295.38 380.68,299.17 382.20,300.30" fill="none" stroke="#ff0000" stroke-width="1.75" stroke-linejoin="round"/>
<path d="M349.50,19.00 C349.12,24.83 347.82,39.67 347.20,54.00 C346.58,68.33 345.92,84.00 345.80,105.00 C345.68,126.00 346.10,164.13 346.50,180.00 C346.90,195.87 347.75,191.87 348.20,200.20 C348.65,208.53 349.00,222.08 349.20,230.00 C349.40,237.92 349.08,243.18 349.40,247.70 C349.72,252.22 350.13,253.18 351.10,257.10 C352.07,261.02 353.32,266.55 355.20,271.20 C357.08,275.85 359.67,280.90 362.40,285.00 C365.13,289.10 368.18,292.23 371.60,295.80 C375.02,299.37 381.02,304.63 382.90,306.40" fill="none" stroke="#800080" stroke-width="1.75" stroke-linejoin="round"/>
<path d="M300.70,19.00 C300.82,26.73 301.02,50.23 301.40,65.40 C301.78,80.57 302.55,97.52 303.00,110.00 C303.45,122.48 303.53,129.47 304.10,140.30 C304.67,151.13 305.60,165.02 306.40,175.00 C307.20,184.98 308.12,191.87 308.90,200.20 C309.68,208.53 309.72,217.85 311.10,225.00 C312.48,232.15 314.42,238.95 317.20,243.10 C319.98,247.25 325.17,248.23 327.80,249.90 C330.43,251.57 331.13,251.98 333.00,253.10 C334.87,254.22 336.82,255.18 339.00,256.60 C341.18,258.02 344.17,259.83 346.10,261.60 C348.03,263.37 349.82,267.63 350.60,267.20 C351.38,266.77 350.37,260.60 350.80,259.00 C351.23,257.40 352.13,257.92 353.20,257.60 C354.27,257.28 355.53,256.77 357.20,257.10 C358.87,257.43 361.18,258.60 363.20,259.60 C365.22,260.60 367.52,261.47 369.30,263.10 C371.08,264.73 372.13,266.85 373.90,269.40 C375.67,271.95 378.02,275.13 379.90,278.40 C381.78,281.67 383.30,284.85 385.20,289.00 C387.10,293.15 390.28,300.92 391.30,303.30" fill="none" stroke="#ff5500" stroke-width="1.75" stroke-linejoin="round" stroke-dasharray="6.5 2.8"/>
<path d="M300.70,19.00 C300.82,26.73 301.02,50.23 301.40,65.40 C301.78,80.57 302.55,97.52 303.00,110.00 C303.45,122.48 303.53,129.47 304.10,140.30 C304.67,151.13 305.60,165.02 306.40,175.00 C307.20,184.98 308.10,192.70 308.90,200.20 C309.70,207.70 310.62,214.60 311.20,220.00 C311.78,225.40 311.57,228.40 312.40,232.60 C313.23,236.80 314.73,241.00 316.20,245.20 C317.67,249.40 318.68,254.65 321.20,257.80 C323.72,260.95 328.50,262.58 331.30,264.10 C334.10,265.62 336.00,265.80 338.00,266.90 C340.00,268.00 341.53,269.32 343.30,270.70 C345.07,272.08 346.98,273.65 348.60,275.20 C350.22,276.75 351.77,278.70 353.00,280.00 C354.23,281.30 355.50,282.50 356.00,283.00 C356.05,282.08 355.80,278.97 356.30,277.50 C356.80,276.03 357.97,274.82 359.00,274.20 C360.03,273.58 361.25,273.60 362.50,273.80 C363.75,274.00 364.78,273.88 366.50,275.40 C368.22,276.92 370.70,280.18 372.80,282.90 C374.90,285.62 377.20,288.75 379.10,291.70 C381.00,294.65 383.13,298.72 384.20,300.60 C385.27,302.48 385.28,302.60 385.50,303.00" fill="none" stroke="#008000" stroke-width="1.75" stroke-linejoin="round" stroke-dasharray="11.2 2.8 1.9 2.8"/>
</g>
<text x="717.0" y="35.8" text-anchor="end" font-size="14" textLength="59" lengthAdjust="spacingAndGlyphs" style="fill:#ff0000">0.045 Gyr</text>
<text x="717.0" y="50.3" text-anchor="end" font-size="14" textLength="59" lengthAdjust="spacingAndGlyphs" style="fill:#800080">0.020 Gyr</text>
<text x="717.0" y="64.9" text-anchor="end" font-size="14" textLength="59" lengthAdjust="spacingAndGlyphs" style="fill:#ffa500">0.010 Gyr</text>
<text x="717.0" y="79.5" text-anchor="end" font-size="14" textLength="59" lengthAdjust="spacingAndGlyphs" style="fill:#008000">0.028 Gyr</text>
<g clip-path="url(#c2)">
<circle cx="601.7" cy="27.5" r="2.75" fill="#1f77b4"/>
<circle cx="609.2" cy="44.3" r="2.75" fill="#1f77b4"/>
<circle cx="600.6" cy="52.9" r="2.75" fill="#1f77b4"/>
<circle cx="601.3" cy="58.5" r="2.75" fill="#1f77b4"/>
<circle cx="549.1" cy="88.7" r="2.75" fill="#1f77b4"/>
<circle cx="601.3" cy="101.4" r="2.75" fill="#1f77b4"/>
<circle cx="664.8" cy="107.2" r="2.75" fill="#1f77b4"/>
<circle cx="580.0" cy="118.6" r="2.75" fill="#1f77b4"/>
<circle cx="571.8" cy="134.5" r="2.75" fill="#1f77b4"/>
<circle cx="589.5" cy="132.9" r="2.75" fill="#1f77b4"/>
<circle cx="594.0" cy="146.9" r="2.75" fill="#1f77b4"/>
<circle cx="621.2" cy="152.2" r="2.75" fill="#1f77b4"/>
<circle cx="620.8" cy="155.6" r="2.75" fill="#1f77b4"/>
<circle cx="579.3" cy="161.3" r="2.75" fill="#1f77b4"/>
<circle cx="580.9" cy="168.5" r="2.75" fill="#1f77b4"/>
<circle cx="594.3" cy="171.5" r="2.75" fill="#1f77b4"/>
<circle cx="599.3" cy="174.7" r="2.75" fill="#1f77b4"/>
<circle cx="614.9" cy="179.4" r="2.75" fill="#1f77b4"/>
<circle cx="561.9" cy="181.3" r="2.75" fill="#1f77b4"/>
<circle cx="574.4" cy="184.5" r="2.75" fill="#1f77b4"/>
<circle cx="594.5" cy="182.7" r="2.75" fill="#1f77b4"/>
<circle cx="606.4" cy="185.5" r="2.75" fill="#1f77b4"/>
<circle cx="608.0" cy="188.0" r="2.75" fill="#1f77b4"/>
<circle cx="608.8" cy="193.2" r="2.75" fill="#1f77b4"/>
<circle cx="582.2" cy="199.6" r="2.75" fill="#1f77b4"/>
<circle cx="594.2" cy="201.5" r="2.75" fill="#1f77b4"/>
<circle cx="622.6" cy="201.2" r="2.75" fill="#1f77b4"/>
<circle cx="593.2" cy="211.0" r="2.75" fill="#1f77b4"/>
<circle cx="619.0" cy="213.5" r="2.75" fill="#1f77b4"/>
<circle cx="630.8" cy="218.4" r="2.75" fill="#1f77b4"/>
<circle cx="620.3" cy="220.6" r="2.75" fill="#1f77b4"/>
<circle cx="622.9" cy="225.0" r="2.75" fill="#1f77b4"/>
<circle cx="620.3" cy="226.7" r="2.75" fill="#1f77b4"/>
<circle cx="622.9" cy="230.3" r="2.75" fill="#1f77b4"/>
<circle cx="634.9" cy="230.8" r="2.75" fill="#1f77b4"/>
<circle cx="603.9" cy="232.9" r="2.75" fill="#1f77b4"/>
<circle cx="613.2" cy="231.5" r="2.75" fill="#1f77b4"/>
<circle cx="616.2" cy="231.5" r="2.75" fill="#1f77b4"/>
<circle cx="617.6" cy="237.3" r="2.75" fill="#1f77b4"/>
<circle cx="626.8" cy="238.6" r="2.75" fill="#1f77b4"/>
<circle cx="622.0" cy="241.4" r="2.75" fill="#1f77b4"/>
<circle cx="626.8" cy="243.1" r="2.75" fill="#1f77b4"/>
<circle cx="611.4" cy="246.1" r="2.75" fill="#1f77b4"/>
<circle cx="631.7" cy="249.7" r="2.75" fill="#1f77b4"/>
<circle cx="637.0" cy="247.9" r="2.75" fill="#1f77b4"/>
<circle cx="660.8" cy="242.9" r="2.75" fill="#1f77b4"/>
<circle cx="643.2" cy="251.8" r="2.75" fill="#1f77b4"/>
<circle cx="639.7" cy="251.8" r="2.75" fill="#1f77b4"/>
<circle cx="634.5" cy="256.2" r="2.75" fill="#1f77b4"/>
<circle cx="650.3" cy="253.5" r="2.75" fill="#1f77b4"/>
<circle cx="653.8" cy="256.2" r="2.75" fill="#1f77b4"/>
<circle cx="645.5" cy="262.3" r="2.75" fill="#1f77b4"/>
<circle cx="641.4" cy="265.9" r="2.75" fill="#1f77b4"/>
<circle cx="650.3" cy="269.4" r="2.75" fill="#1f77b4"/>
<circle cx="654.7" cy="271.2" r="2.75" fill="#1f77b4"/>
<circle cx="662.6" cy="268.2" r="2.75" fill="#1f77b4"/>
<circle cx="636.2" cy="272.9" r="2.75" fill="#1f77b4"/>
<circle cx="644.1" cy="280.5" r="2.75" fill="#1f77b4"/>
<circle cx="663.5" cy="283.5" r="2.75" fill="#1f77b4"/>
<circle cx="667.9" cy="281.9" r="2.75" fill="#1f77b4"/>
<circle cx="664.5" cy="288.3" r="2.75" fill="#1f77b4"/>
<circle cx="658.2" cy="287.0" r="2.75" fill="#1f77b4"/>
<circle cx="656.4" cy="296.0" r="2.75" fill="#1f77b4"/>
<circle cx="655.6" cy="300.5" r="2.75" fill="#1f77b4"/>
<circle cx="660.8" cy="298.5" r="2.75" fill="#1f77b4"/>
<circle cx="679.9" cy="290.2" r="2.75" fill="#1f77b4"/>
<circle cx="675.0" cy="295.9" r="2.75" fill="#1f77b4"/>
<circle cx="602.6" cy="28.4" r="2.4" fill="none" stroke="#3a3a3a" stroke-width="1.15"/>
<circle cx="601.5" cy="53.8" r="2.4" fill="none" stroke="#3a3a3a" stroke-width="1.15"/>
<circle cx="602.2" cy="59.4" r="2.4" fill="none" stroke="#3a3a3a" stroke-width="1.15"/>
<circle cx="602.2" cy="102.3" r="2.4" fill="none" stroke="#3a3a3a" stroke-width="1.15"/>
<circle cx="572.7" cy="135.4" r="2.4" fill="none" stroke="#3a3a3a" stroke-width="1.15"/>
<circle cx="600.2" cy="175.6" r="2.4" fill="none" stroke="#3a3a3a" stroke-width="1.15"/>
<circle cx="607.3" cy="186.4" r="2.4" fill="none" stroke="#3a3a3a" stroke-width="1.15"/>
<circle cx="608.9" cy="188.9" r="2.4" fill="none" stroke="#3a3a3a" stroke-width="1.15"/>
<circle cx="609.7" cy="194.1" r="2.4" fill="none" stroke="#3a3a3a" stroke-width="1.15"/>
<circle cx="583.1" cy="200.5" r="2.4" fill="none" stroke="#3a3a3a" stroke-width="1.15"/>
<circle cx="619.9" cy="214.4" r="2.4" fill="none" stroke="#3a3a3a" stroke-width="1.15"/>
<circle cx="621.2" cy="221.5" r="2.4" fill="none" stroke="#3a3a3a" stroke-width="1.15"/>
<circle cx="623.8" cy="225.9" r="2.4" fill="none" stroke="#3a3a3a" stroke-width="1.15"/>
<circle cx="621.2" cy="227.6" r="2.4" fill="none" stroke="#3a3a3a" stroke-width="1.15"/>
<circle cx="623.8" cy="231.2" r="2.4" fill="none" stroke="#3a3a3a" stroke-width="1.15"/>
<circle cx="614.1" cy="232.4" r="2.4" fill="none" stroke="#3a3a3a" stroke-width="1.15"/>
<circle cx="617.1" cy="232.4" r="2.4" fill="none" stroke="#3a3a3a" stroke-width="1.15"/>
<circle cx="627.7" cy="239.5" r="2.4" fill="none" stroke="#3a3a3a" stroke-width="1.15"/>
<circle cx="622.9" cy="242.3" r="2.4" fill="none" stroke="#3a3a3a" stroke-width="1.15"/>
<circle cx="627.7" cy="244.0" r="2.4" fill="none" stroke="#3a3a3a" stroke-width="1.15"/>
<circle cx="661.7" cy="243.8" r="2.4" fill="none" stroke="#3a3a3a" stroke-width="1.15"/>
<circle cx="640.6" cy="252.7" r="2.4" fill="none" stroke="#3a3a3a" stroke-width="1.15"/>
<circle cx="635.4" cy="257.1" r="2.4" fill="none" stroke="#3a3a3a" stroke-width="1.15"/>
<circle cx="655.6" cy="272.1" r="2.4" fill="none" stroke="#3a3a3a" stroke-width="1.15"/>
<circle cx="645.0" cy="281.4" r="2.4" fill="none" stroke="#3a3a3a" stroke-width="1.15"/>
<circle cx="680.8" cy="291.1" r="2.4" fill="none" stroke="#3a3a3a" stroke-width="1.15"/>
<circle cx="632.6" cy="256.5" r="2.4" fill="none" stroke="#555" stroke-width="1.15"/>
<circle cx="665.3" cy="300.3" r="2.4" fill="none" stroke="#555" stroke-width="1.15"/>
<circle cx="671.4" cy="299.4" r="2.4" fill="none" stroke="#555" stroke-width="1.15"/>
<path d="M721.00,18.00 C722.33,19.08 727.67,23.42 729.00,24.50" fill="none" stroke="#ff0000" stroke-width="1.75" stroke-linejoin="round"/>
<path d="M594.00,19.00 C593.52,25.58 591.60,44.17 591.10,58.50 C590.60,72.83 590.90,90.52 591.00,105.00 C591.10,119.48 591.07,132.07 591.70,145.40 C592.33,158.73 594.03,176.38 594.80,185.00 C595.57,193.62 595.42,193.07 596.30,197.10 C597.18,201.13 598.65,205.47 600.10,209.20 C601.55,212.93 603.18,216.03 605.00,219.50 C606.82,222.97 609.00,226.58 611.00,230.00 C613.00,233.42 615.05,236.95 617.00,240.00 C618.95,243.05 620.28,244.92 622.70,248.30 C625.12,251.68 628.98,256.42 631.50,260.30 C634.02,264.18 635.70,267.58 637.80,271.60 C639.90,275.62 641.43,279.18 644.10,284.40 C646.77,289.62 652.18,299.82 653.80,302.90" fill="none" stroke="#ff0000" stroke-width="1.75" stroke-linejoin="round"/>
<path d="M583.20,19.00 C583.27,26.73 583.42,51.07 583.60,65.40 C583.78,79.73 583.88,91.67 584.30,105.00 C584.72,118.33 585.40,132.07 586.10,145.40 C586.80,158.73 587.80,175.13 588.50,185.00 C589.20,194.87 589.50,198.55 590.30,204.60 C591.10,210.65 591.92,216.27 593.30,221.30 C594.68,226.33 596.65,231.10 598.60,234.80 C600.55,238.50 603.08,241.25 605.00,243.50 C606.92,245.75 607.98,245.93 610.10,248.30 C612.22,250.67 615.18,254.97 617.70,257.70 C620.22,260.43 623.10,262.17 625.20,264.70 C627.30,267.23 627.88,267.85 630.30,272.90 C632.72,277.95 637.55,290.43 639.70,295.00 C641.85,299.57 642.03,299.28 643.20,300.30 C644.37,301.32 645.67,300.37 646.70,301.10 C647.73,301.83 648.95,304.10 649.40,304.70" fill="none" stroke="#800080" stroke-width="1.75" stroke-linejoin="round"/>
<path d="M578.90,19.00 C579.08,26.73 579.67,51.90 580.00,65.40 C580.33,78.90 580.38,86.67 580.90,100.00 C581.42,113.33 582.35,130.40 583.10,145.40 C583.85,160.40 584.78,179.82 585.40,190.00 C586.02,200.18 585.83,200.23 586.80,206.50 C587.77,212.77 589.83,222.42 591.20,227.60 C592.57,232.78 593.10,235.10 595.00,237.60 C596.90,240.10 599.87,240.60 602.60,242.60 C605.33,244.60 608.78,247.08 611.40,249.60 C614.02,252.12 616.93,257.18 618.30,257.70 C619.67,258.22 618.97,254.27 619.60,252.70 C620.23,251.13 620.75,248.93 622.10,248.30 C623.45,247.67 625.50,247.95 627.70,248.90 C629.90,249.85 632.98,251.68 635.30,254.00 C637.62,256.32 639.98,260.28 641.60,262.80 C643.22,265.32 643.85,266.68 645.00,269.10 C646.15,271.52 647.18,273.87 648.50,277.30 C649.82,280.73 651.58,285.58 652.90,289.70 C654.22,293.82 655.82,299.95 656.40,302.00" fill="none" stroke="#ff5500" stroke-width="1.75" stroke-linejoin="round" stroke-dasharray="6.5 2.8"/>
<path d="M578.60,19.00 C578.80,26.73 579.50,50.23 579.80,65.40 C580.10,80.57 580.12,96.67 580.40,110.00 C580.68,123.33 581.03,133.73 581.50,145.40 C581.97,157.07 582.62,169.82 583.20,180.00 C583.78,190.18 583.97,198.85 585.00,206.50 C586.03,214.15 587.73,220.93 589.40,225.90 C591.07,230.87 592.80,232.88 595.00,236.30 C597.20,239.72 600.08,243.13 602.60,246.40 C605.12,249.67 607.58,252.97 610.10,255.90 C612.62,258.83 615.22,261.10 617.70,264.00 C620.18,266.90 622.87,269.97 625.00,273.30 C627.13,276.63 628.50,279.37 630.50,284.00 C632.50,288.63 635.92,298.25 637.00,301.10" fill="none" stroke="#008000" stroke-width="1.75" stroke-linejoin="round" stroke-dasharray="11.2 2.8 1.9 2.8"/>
</g>
<rect x="41.0" y="20.0" width="196.0" height="291.0" fill="none" stroke="#000" stroke-width="1.8"/>
<line x1="36.4" y1="19.90" x2="41.0" y2="19.90" stroke="#000" stroke-width="1.5"/>
<text x="33.0" y="25.30" text-anchor="end" font-size="14">11</text>
<line x1="36.4" y1="60.90" x2="41.0" y2="60.90" stroke="#000" stroke-width="1.5"/>
<text x="33.0" y="66.30" text-anchor="end" font-size="14">12</text>
<line x1="36.4" y1="101.90" x2="41.0" y2="101.90" stroke="#000" stroke-width="1.5"/>
<text x="33.0" y="107.30" text-anchor="end" font-size="14">13</text>
<line x1="36.4" y1="142.90" x2="41.0" y2="142.90" stroke="#000" stroke-width="1.5"/>
<text x="33.0" y="148.30" text-anchor="end" font-size="14">14</text>
<line x1="36.4" y1="183.90" x2="41.0" y2="183.90" stroke="#000" stroke-width="1.5"/>
<text x="33.0" y="189.30" text-anchor="end" font-size="14">15</text>
<line x1="36.4" y1="224.90" x2="41.0" y2="224.90" stroke="#000" stroke-width="1.5"/>
<text x="33.0" y="230.30" text-anchor="end" font-size="14">16</text>
<line x1="36.4" y1="265.90" x2="41.0" y2="265.90" stroke="#000" stroke-width="1.5"/>
<text x="33.0" y="271.30" text-anchor="end" font-size="14">17</text>
<line x1="36.4" y1="306.90" x2="41.0" y2="306.90" stroke="#000" stroke-width="1.5"/>
<text x="33.0" y="312.30" text-anchor="end" font-size="14">18</text>
<line x1="52.60" y1="311.0" x2="52.60" y2="315.6" stroke="#000" stroke-width="1.5"/>
<text x="52.60" y="329.5" text-anchor="middle" font-size="14">0.5</text>
<line x1="110.30" y1="311.0" x2="110.30" y2="315.6" stroke="#000" stroke-width="1.5"/>
<text x="110.30" y="329.5" text-anchor="middle" font-size="14">1.0</text>
<line x1="168.00" y1="311.0" x2="168.00" y2="315.6" stroke="#000" stroke-width="1.5"/>
<text x="168.00" y="329.5" text-anchor="middle" font-size="14">1.5</text>
<line x1="225.70" y1="311.0" x2="225.70" y2="315.6" stroke="#000" stroke-width="1.5"/>
<text x="225.70" y="329.5" text-anchor="middle" font-size="14">2.0</text>
<text x="139.0" y="14.9" text-anchor="middle" font-size="23" textLength="76" lengthAdjust="spacingAndGlyphs">UBC 276</text>
<text x="139.6" y="347.7" text-anchor="middle" font-size="19.3" textLength="49.5" lengthAdjust="spacingAndGlyphs">BP-RP</text>
<text transform="translate(12.5,165.5) rotate(-90)" text-anchor="middle" font-size="18">G</text>
<rect x="286.0" y="20.0" width="196.0" height="291.0" fill="none" stroke="#000" stroke-width="1.8"/>
<line x1="281.4" y1="19.90" x2="286.0" y2="19.90" stroke="#000" stroke-width="1.5"/>
<text x="278.0" y="25.30" text-anchor="end" font-size="14">11</text>
<line x1="281.4" y1="60.90" x2="286.0" y2="60.90" stroke="#000" stroke-width="1.5"/>
<text x="278.0" y="66.30" text-anchor="end" font-size="14">12</text>
<line x1="281.4" y1="101.90" x2="286.0" y2="101.90" stroke="#000" stroke-width="1.5"/>
<text x="278.0" y="107.30" text-anchor="end" font-size="14">13</text>
<line x1="281.4" y1="142.90" x2="286.0" y2="142.90" stroke="#000" stroke-width="1.5"/>
<text x="278.0" y="148.30" text-anchor="end" font-size="14">14</text>
<line x1="281.4" y1="183.90" x2="286.0" y2="183.90" stroke="#000" stroke-width="1.5"/>
<text x="278.0" y="189.30" text-anchor="end" font-size="14">15</text>
<line x1="281.4" y1="224.90" x2="286.0" y2="224.90" stroke="#000" stroke-width="1.5"/>
<text x="278.0" y="230.30" text-anchor="end" font-size="14">16</text>
<line x1="281.4" y1="265.90" x2="286.0" y2="265.90" stroke="#000" stroke-width="1.5"/>
<text x="278.0" y="271.30" text-anchor="end" font-size="14">17</text>
<line x1="281.4" y1="306.90" x2="286.0" y2="306.90" stroke="#000" stroke-width="1.5"/>
<text x="278.0" y="312.30" text-anchor="end" font-size="14">18</text>
<line x1="319.50" y1="311.0" x2="319.50" y2="315.6" stroke="#000" stroke-width="1.5"/>
<text x="319.50" y="329.5" text-anchor="middle" font-size="14">1.5</text>
<line x1="373.50" y1="311.0" x2="373.50" y2="315.6" stroke="#000" stroke-width="1.5"/>
<text x="373.50" y="329.5" text-anchor="middle" font-size="14">2.0</text>
<line x1="427.50" y1="311.0" x2="427.50" y2="315.6" stroke="#000" stroke-width="1.5"/>
<text x="427.50" y="329.5" text-anchor="middle" font-size="14">2.5</text>
<line x1="481.70" y1="311.0" x2="481.70" y2="315.6" stroke="#000" stroke-width="1.5"/>
<text x="481.70" y="329.5" text-anchor="middle" font-size="14">3.0</text>
<text x="384.0" y="14.9" text-anchor="middle" font-size="23" textLength="76" lengthAdjust="spacingAndGlyphs">UBC 562</text>
<text x="384.6" y="347.7" text-anchor="middle" font-size="19.3" textLength="49.5" lengthAdjust="spacingAndGlyphs">BP-RP</text>
<text transform="translate(257.5,165.5) rotate(-90)" text-anchor="middle" font-size="18">G</text>
<rect x="531.0" y="20.0" width="196.0" height="291.0" fill="none" stroke="#000" stroke-width="1.8"/>
<line x1="526.4" y1="19.90" x2="531.0" y2="19.90" stroke="#000" stroke-width="1.5"/>
<text x="523.0" y="25.30" text-anchor="end" font-size="14">11</text>
<line x1="526.4" y1="60.90" x2="531.0" y2="60.90" stroke="#000" stroke-width="1.5"/>
<text x="523.0" y="66.30" text-anchor="end" font-size="14">12</text>
<line x1="526.4" y1="101.90" x2="531.0" y2="101.90" stroke="#000" stroke-width="1.5"/>
<text x="523.0" y="107.30" text-anchor="end" font-size="14">13</text>
<line x1="526.4" y1="142.90" x2="531.0" y2="142.90" stroke="#000" stroke-width="1.5"/>
<text x="523.0" y="148.30" text-anchor="end" font-size="14">14</text>
<line x1="526.4" y1="183.90" x2="531.0" y2="183.90" stroke="#000" stroke-width="1.5"/>
<text x="523.0" y="189.30" text-anchor="end" font-size="14">15</text>
<line x1="526.4" y1="224.90" x2="531.0" y2="224.90" stroke="#000" stroke-width="1.5"/>
<text x="523.0" y="230.30" text-anchor="end" font-size="14">16</text>
<line x1="526.4" y1="265.90" x2="531.0" y2="265.90" stroke="#000" stroke-width="1.5"/>
<text x="523.0" y="271.30" text-anchor="end" font-size="14">17</text>
<line x1="526.4" y1="306.90" x2="531.0" y2="306.90" stroke="#000" stroke-width="1.5"/>
<text x="523.0" y="312.30" text-anchor="end" font-size="14">18</text>
<line x1="546.10" y1="311.0" x2="546.10" y2="315.6" stroke="#000" stroke-width="1.5"/>
<text x="546.10" y="329.5" text-anchor="middle" font-size="14">1</text>
<line x1="636.80" y1="311.0" x2="636.80" y2="315.6" stroke="#000" stroke-width="1.5"/>
<text x="636.80" y="329.5" text-anchor="middle" font-size="14">2</text>
<line x1="727.00" y1="311.0" x2="727.00" y2="315.6" stroke="#000" stroke-width="1.5"/>
<text x="727.00" y="329.5" text-anchor="middle" font-size="14">3</text>
<text x="629.0" y="14.9" text-anchor="middle" font-size="23" textLength="90" lengthAdjust="spacingAndGlyphs">Teutsch 30</text>
<text x="629.6" y="347.7" text-anchor="middle" font-size="19.3" textLength="49.5" lengthAdjust="spacingAndGlyphs">BP-RP</text>
<text transform="translate(502.5,165.5) rotate(-90)" text-anchor="middle" font-size="18">G</text>
<line x1="18" y1="369.8" x2="47.9" y2="369.8" stroke="#ff0000" stroke-width="1.75"/>
<text x="58.4" y="374.5" font-size="14" textLength="60" lengthAdjust="spacingAndGlyphs">This work</text>
<line x1="145.3" y1="369.8" x2="174.9" y2="369.8" stroke="#800080" stroke-width="1.75"/>
<text x="185.6" y="374.5" font-size="14" textLength="133" lengthAdjust="spacingAndGlyphs">Hunt &amp; Reffert (2023)</text>
<line x1="346.6" y1="369.8" x2="375.3" y2="369.8" stroke="#ff5500" stroke-width="1.75" stroke-dasharray="6.5 2.6"/>
<text x="386" y="374.5" font-size="14" textLength="105" lengthAdjust="spacingAndGlyphs">Dias et al. (2021)</text>
<line x1="519.1" y1="369.8" x2="547.7" y2="369.8" stroke="#008000" stroke-width="1.75" stroke-dasharray="11.2 2.8 1.9 2.8"/>
<text x="558.2" y="374.5" font-size="14" textLength="169" lengthAdjust="spacingAndGlyphs">Cantat-Gaudin et al. (2020)</text>
<circle cx="123.6" cy="390" r="2.65" fill="#1f77b4"/>
<text x="148.9" y="393.6" font-size="14" textLength="224" lengthAdjust="spacingAndGlyphs">Members from Hunt &amp; Reffert (2023)</text>
<circle cx="415.2" cy="389.5" r="2.4" fill="none" stroke="#555" stroke-width="1.15"/>
<text x="441" y="393.6" font-size="14" textLength="195" lengthAdjust="spacingAndGlyphs">Members from Dias et al. (2021)</text>
</svg></body></html>
